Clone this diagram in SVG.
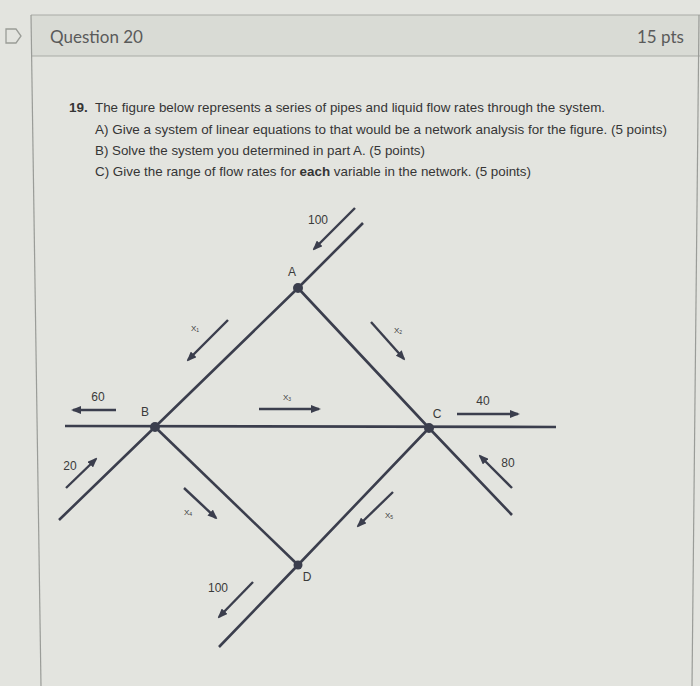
<svg xmlns="http://www.w3.org/2000/svg" width="700" height="686" viewBox="0 0 700 686">
<style>
.q{font-family:"Liberation Sans",Arial,sans-serif;font-size:13.5px;fill:#353535}
.hd{font-family:Lato,"Liberation Sans",sans-serif;font-size:17px;fill:#5a5a5a}
.pipe{stroke:#3b3e4d;stroke-width:2.6;fill:none;stroke-linecap:butt}
.flow{stroke:#3b3e4d;stroke-width:2.4;fill:none;marker-end:url(#ah)}
.lbl{font-family:"Liberation Sans",Arial,sans-serif;font-size:12px;fill:#3a3a3a;text-anchor:middle}
.xl{font-family:"Liberation Sans",Arial,sans-serif;font-size:8px;fill:#3a3a3a;text-anchor:middle}
.node{fill:#3b3e4d}
</style>
<defs>
<marker id="ah" markerUnits="userSpaceOnUse" markerWidth="10" markerHeight="8" refX="8" refY="4" orient="auto">
<path d="M0,0 L10,4 L0,8 z" fill="#3b3e4d"/>
</marker>
</defs>
<rect width="700" height="686" fill="#e3e4df"/>
<g id="header">
<path d="M31,15 L700,15 L700,56 L32,56 z" fill="#d9dbd5"/>
<line x1="31" y1="15" x2="700" y2="15" stroke="#a9aba6" stroke-width="1"/>
<line x1="31" y1="56" x2="700" y2="56" stroke="#a9aba6" stroke-width="1"/>
<line x1="31" y1="15" x2="41" y2="686" stroke="#9a9c98" stroke-width="1.2"/>
<line x1="699" y1="15" x2="692" y2="686" stroke="#9a9c98" stroke-width="1.2"/>
<path d="M6,29 L16,29 L21,36 L16,43 L6,43 z" fill="none" stroke="#9a9c97" stroke-width="1.3"/>
<text class="hd" x="50" y="43">Question 20</text>
<text class="hd" x="637" y="43">15 pts</text>
</g>
<g id="question">
<text class="q" x="69" y="112" font-weight="bold">19.</text>
<text class="q" x="95" y="112" textLength="510" lengthAdjust="spacingAndGlyphs">The figure below represents a series of pipes and liquid flow rates through the system.</text>
<text class="q" x="95" y="134" textLength="572" lengthAdjust="spacingAndGlyphs">A) Give a system of linear equations to that would be a network analysis for the figure. (5 points)</text>
<text class="q" x="95" y="155" textLength="330" lengthAdjust="spacingAndGlyphs">B) Solve the system you determined in part A. (5 points)</text>
<text class="q" x="95" y="176" textLength="436" lengthAdjust="spacingAndGlyphs">C) Give the range of flow rates for <tspan font-weight="bold">each</tspan> variable in the network. (5 points)</text>
</g>
<g id="connectors">
<path class="pipe" d="M363,223 L298,288 L155,427 L59,520"/>
<path class="pipe" d="M298,288 L429,428 L512,515"/>
<path class="pipe" d="M155,427 L298,565"/>
<path class="pipe" d="M429,428 L298,565 L219,647"/>
<path class="pipe" d="M65,426 L556,427"/>
<line class="flow" x1="355" y1="208" x2="314" y2="249"/>
<line class="flow" x1="228" y1="320" x2="188" y2="360"/>
<line class="flow" x1="371" y1="322" x2="404" y2="359"/>
<line class="flow" x1="116" y1="410" x2="73" y2="410"/>
<line class="flow" x1="259" y1="409" x2="319" y2="409"/>
<line class="flow" x1="457" y1="414" x2="518" y2="414"/>
<line class="flow" x1="66" y1="488" x2="96" y2="459"/>
<line class="flow" x1="184" y1="488" x2="216" y2="518"/>
<line class="flow" x1="253" y1="582" x2="219" y2="617"/>
<line class="flow" x1="393" y1="492" x2="358" y2="526"/>
<line class="flow" x1="512" y1="488" x2="480" y2="456"/>
</g>
<g id="node-A"><circle class="node" cx="298" cy="288" r="5"/><text class="lbl" x="292" y="276">A</text></g>
<g id="node-B"><circle class="node" cx="155" cy="427" r="5"/><text class="lbl" x="145" y="416">B</text></g>
<g id="node-C"><circle class="node" cx="429" cy="428" r="5"/><text class="lbl" x="437" y="418">C</text></g>
<g id="node-D"><circle class="node" cx="298" cy="565" r="4.5"/><text class="lbl" x="307" y="581">D</text></g>
<g id="labels">
<text class="lbl" x="318" y="224">100</text>
<text class="lbl" x="98" y="401">60</text>
<text class="lbl" x="483" y="405">40</text>
<text class="lbl" x="70" y="470">20</text>
<text class="lbl" x="508" y="467">80</text>
<text class="lbl" x="218" y="592">100</text>
<text class="xl" x="195" y="331">X<tspan font-size="5" dy="1">1</tspan></text>
<text class="xl" x="398" y="333">X<tspan font-size="5" dy="1">2</tspan></text>
<text class="xl" x="287" y="400">X<tspan font-size="5" dy="1">3</tspan></text>
<text class="xl" x="188" y="515">X<tspan font-size="5" dy="1">4</tspan></text>
<text class="xl" x="389" y="518">X<tspan font-size="5" dy="1">5</tspan></text>
</g>
</svg>
